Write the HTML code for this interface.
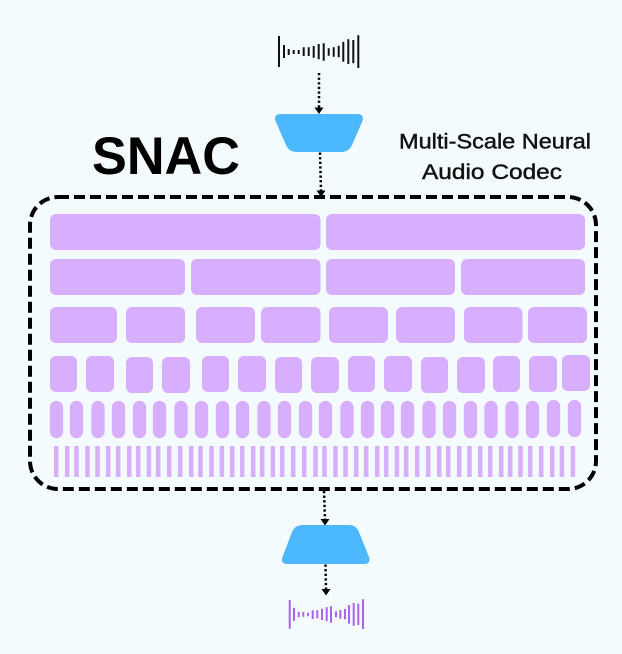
<!DOCTYPE html>
<html><head><meta charset="utf-8"><style>
html,body{margin:0;padding:0;background:#f4fbff}
svg{display:block}
</style></head><body>
<svg width="622" height="654" viewBox="0 0 622 654" xmlns="http://www.w3.org/2000/svg">
<rect width="622" height="654" fill="#f4fbff"/>
<text x="92" y="174" font-family="Liberation Sans, sans-serif" font-weight="700" font-size="53" textLength="148" lengthAdjust="spacingAndGlyphs" fill="#000">SNAC</text>
<g font-family="Liberation Sans, sans-serif" font-size="21.5" fill="#111" stroke="#111" stroke-width="0.45">
<text x="399" y="148.500" textLength="192" lengthAdjust="spacingAndGlyphs">Multi-Scale Neural</text>
<text x="422" y="179" textLength="140" lengthAdjust="spacingAndGlyphs">Audio Codec</text>
</g>
<path fill="none" stroke="#111" stroke-width="2" d="M279 36V67M284 45V58M288.700 49V55M293.700 50V54M298.700 50V54M303.700 47.300V56M308.700 47.300V56M313.700 46V57.700M318.700 44V59.300M323.700 43.300V60.700M328.700 48.300V55.700M333.700 47.300V56.700M338.700 45.700V57.300M343.300 41.700V61.700M348.300 39.300V64M353.300 40V63.300M358.300 35.300V68"/>
<g fill="#d8aeff">
<rect x="50" y="214" width="270.500" height="36" rx="6"/><rect x="326" y="214" width="259" height="36" rx="6"/>
<rect x="50" y="259" width="135" height="36" rx="6"/><rect x="191" y="259" width="129.500" height="36" rx="6"/><rect x="326" y="259" width="129" height="36" rx="6"/><rect x="461" y="259" width="124" height="36" rx="6"/>
<rect x="50" y="307" width="67" height="36" rx="6"/><rect x="126" y="307" width="59" height="36" rx="6"/><rect x="196" y="307" width="59" height="36" rx="6"/><rect x="261" y="307" width="59.500" height="36" rx="6"/><rect x="329" y="307" width="59" height="36" rx="6"/><rect x="396" y="307" width="59" height="36" rx="6"/><rect x="464" y="307" width="58.500" height="36" rx="6"/><rect x="528" y="307" width="59" height="36" rx="6"/>
<rect x="50" y="356" width="27" height="36" rx="6"/><rect x="86" y="356" width="28" height="36" rx="6"/><rect x="126" y="357" width="27" height="36" rx="6"/><rect x="162" y="357" width="28" height="36" rx="6"/><rect x="202" y="356" width="27" height="36" rx="6"/><rect x="238" y="356" width="28" height="36" rx="6"/><rect x="275" y="357" width="27" height="36" rx="6"/><rect x="311" y="357" width="28" height="36" rx="6"/><rect x="348" y="356" width="27" height="36" rx="6"/><rect x="384" y="356" width="28" height="36" rx="6"/><rect x="421" y="357" width="27" height="36" rx="6"/><rect x="457" y="357" width="28" height="36" rx="6"/><rect x="493" y="356" width="27" height="36" rx="6"/><rect x="529" y="356" width="28" height="36" rx="6"/><rect x="562" y="355" width="28" height="36" rx="6"/>
</g>
<path fill="none" stroke="#d8aeff" stroke-width="13.300" stroke-linecap="round" d="M56.500 407.500V431.500M76.500 407.500V431.500M98 407.500V431.500M118.500 407.500V431.500M139.500 407.500V431.500M159.500 407.500V431.500M181 407.500V431.500M201.500 407.500V431.500M222.500 407.500V431.500M242.500 407.500V431.500M264 407.500V431.500M284.500 407.500V431.500M305.500 407.500V431.500M325.500 407.500V431.500M347 407.500V431.500M367.500 407.500V431.500M387.500 407.500V431.500M407.500 407.500V431.500M429 407.500V431.500M449.500 407.500V431.500M470.500 407.500V431.500M491 407.500V431.500M512 407.500V431.500M532.500 407.500V431.500M553.500 406.500V430.500M574.500 406.500V430.500"/>
<path fill="none" stroke="#d8aeff" stroke-width="4.500" d="M56.200 446V477M67.200 446V477M76.500 446V477M87.500 446V477M97.500 446V477M108.200 446V477M118.200 446V477M129.200 446V477M138.200 446V477M148.900 446V477M158.200 446V477M169.200 446V477M180.200 446V477M191.200 446V477M200.500 446V477M211.500 446V477M221.900 446V477M232.200 446V477M242.200 446V477M253.200 446V477M262.200 446V477M272.900 446V477M282.200 446V477M293.200 446V477M304.200 446V477M315.500 446V477M324.500 446V477M335.500 446V477M345.500 446V477M356.200 446V477M366.200 446V477M377.200 446V477M386.200 446V477M396.900 446V477M406.200 446V477M417.200 446V477M428.200 446V477M439.200 446V477M448.200 446V477M459.200 446V477M469.500 446V477M480.200 446V477M490.200 446V477M501.200 446V477M510.200 446V477M520.500 446V477M530.200 446V477M541.200 446V477M552.200 446V477M561.900 446V477M572.900 446V477"/>
<rect x="30" y="197" width="566" height="292" rx="28" ry="28" fill="none" stroke="#000" stroke-width="4" stroke-dasharray="11 5"/>
<g fill="#4cb8ff">
<path d="M281 114H357Q364.500 114 362.500 121L352 145Q349 152 341 152H297Q289 152 286 145L275.500 121Q273.500 114 281 114Z"/>
<path d="M303 525H349Q356 525 359 532L369 557Q371 564 364 564H288Q280 564 282.500 557L292 532Q295 525 303 525Z"/>
</g>
<g stroke="#000" stroke-width="2.500" stroke-dasharray="2.300 2.300" fill="none">
<path d="M319 73V108"/><path d="M320 152.500L321 191"/><path d="M324 491L325 520"/><path d="M325.500 564.500L326 590"/>
</g>
<g fill="#000">
<path d="M314.500 107.500H323.500L319 114Z"/><path d="M316.500 190.500H325.500L321 197Z"/><path d="M320.500 519H329.500L325 525.500Z"/><path d="M321.500 589H330.500L326 595.500Z"/>
</g>
<path fill="none" stroke="#a966e8" stroke-width="2" d="M289.700 600V628.700M294 607.700V620.700M298.700 611.700V617.300M303.300 612V616.700M308 612.700V616.300M312.700 610.300V619M317.300 610.300V618.300M322 608.700V620M326.700 607.300V621.300M331 606.300V622.700M336 611.300V617.300M340.300 610V618.700M345 609V619.300M349 605V623.700M353.700 603V625.700M358.300 603.700V625M363 599.300V629"/>
</svg>
</body></html>
